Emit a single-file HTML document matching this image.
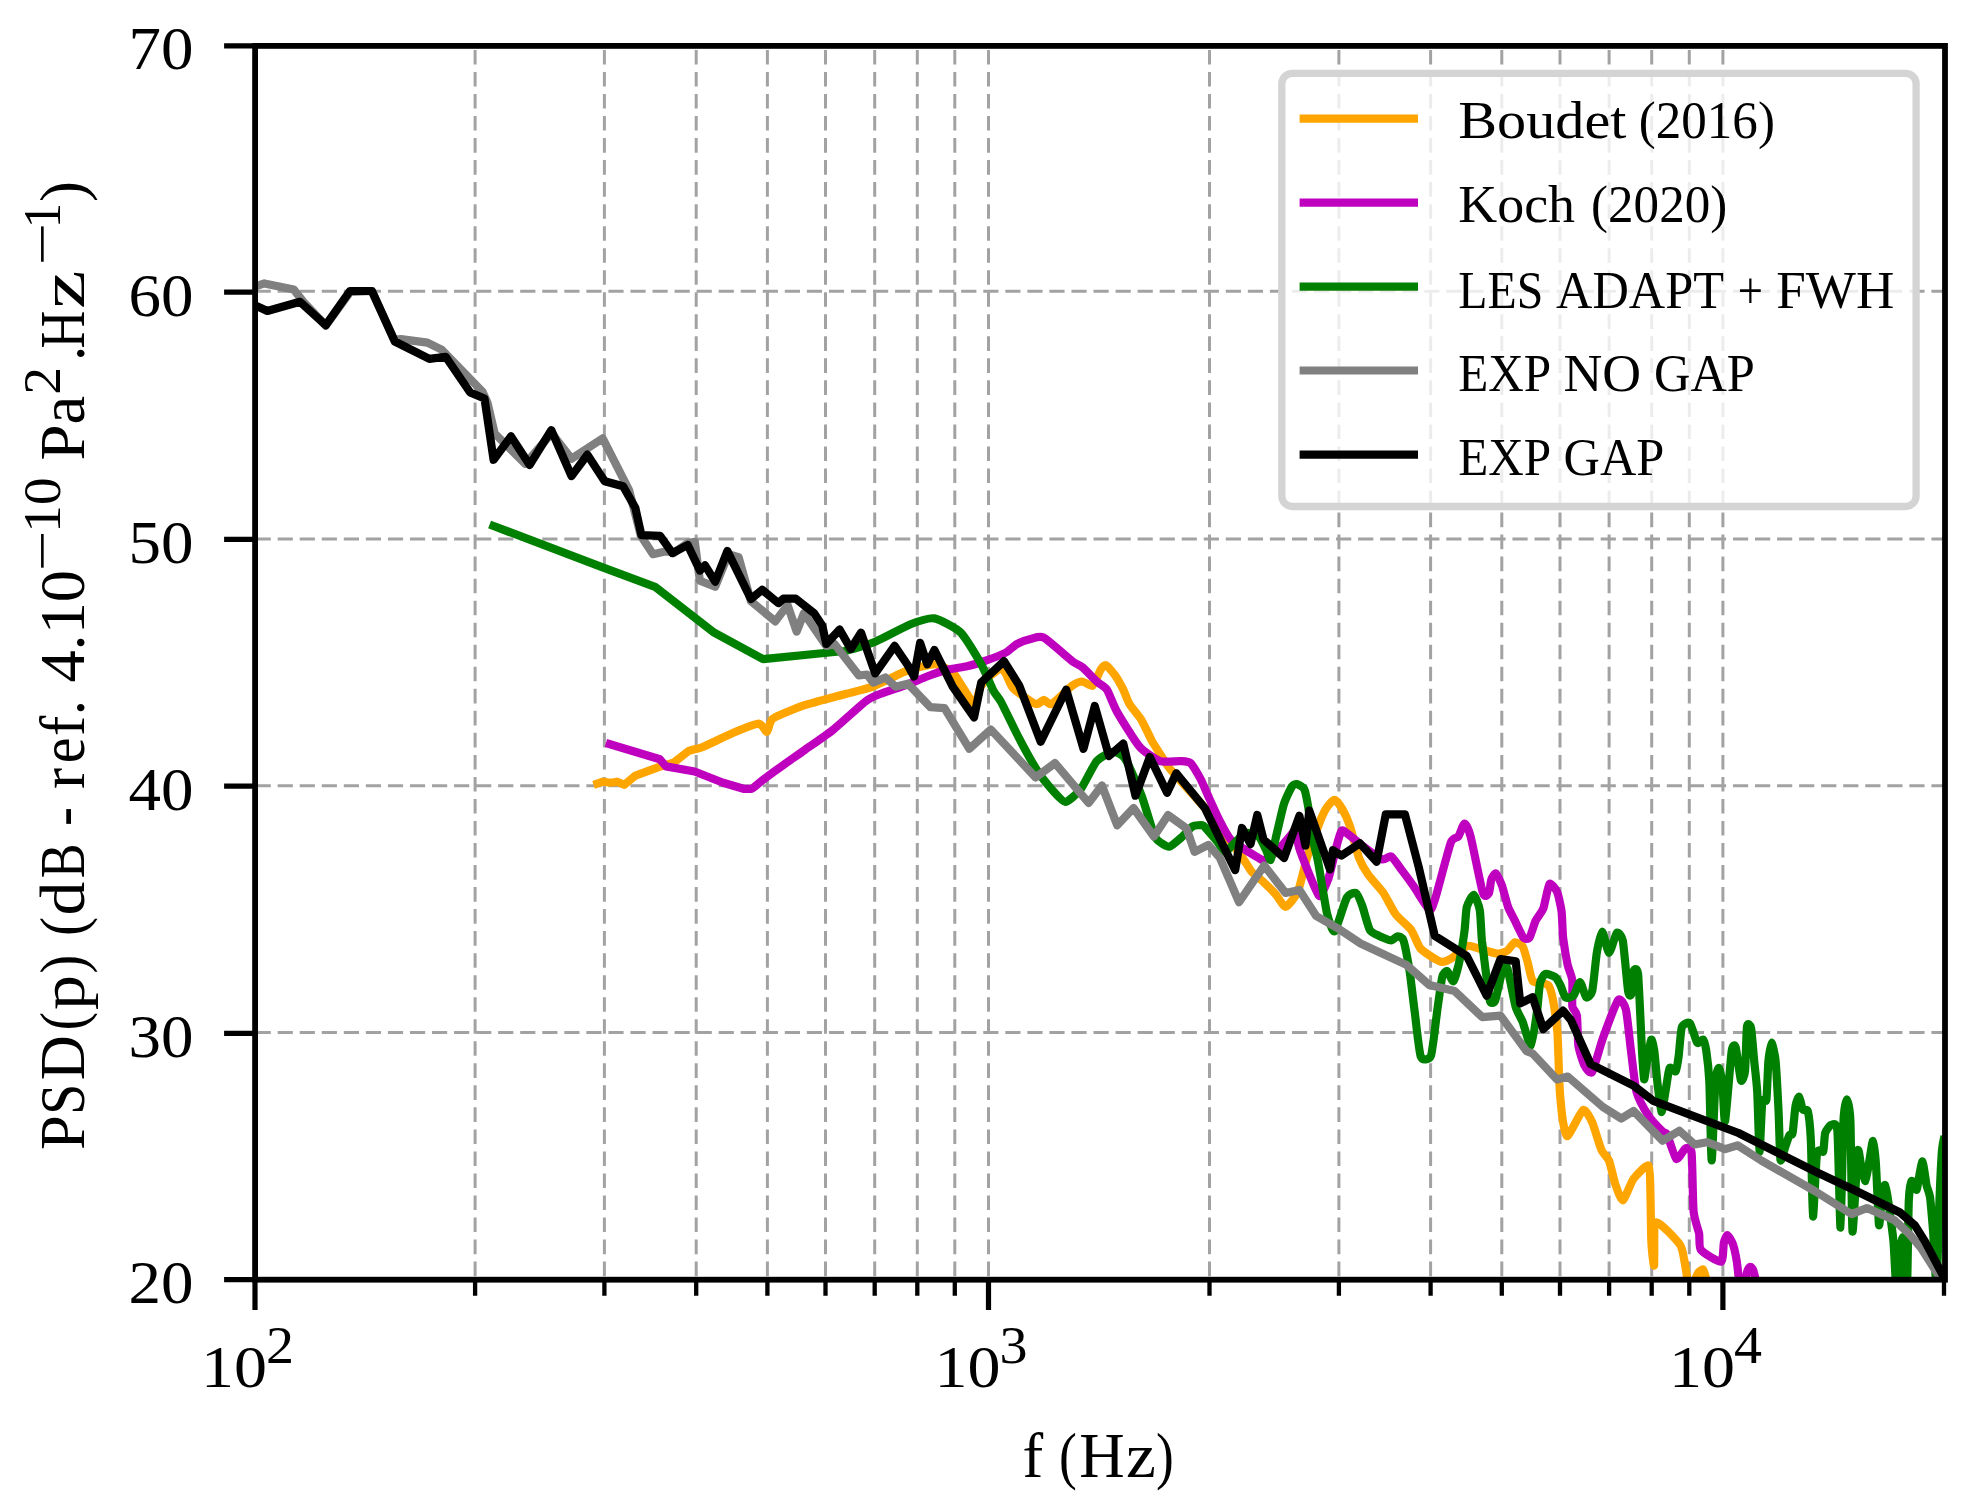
<!DOCTYPE html>
<html lang="en"><head><meta charset="utf-8"><title>PSD(p) spectra</title>
<style>html,body{margin:0;padding:0;background:#fff}svg{display:block}text{font-family:'Liberation Serif', 'DejaVu Serif', serif;fill:#000}</style>
</head><body>
<svg width="1962" height="1506" viewBox="0 0 1962 1506">
<rect width="1962" height="1506" fill="#fff"/>
<defs><clipPath id="ax"><rect x="255.1" y="45.9" width="1689.9" height="1233.8"/></clipPath></defs>
<g clip-path="url(#ax)" stroke="#a2a2a2" stroke-width="3.0" fill="none">
<path d="M475.1 1279.7 V45.9" stroke-dasharray="14.6 7.43" stroke-dashoffset="18.5"/>
<path d="M604.4 1279.7 V45.9" stroke-dasharray="14.6 7.43" stroke-dashoffset="18.5"/>
<path d="M696.2 1279.7 V45.9" stroke-dasharray="14.6 7.43" stroke-dashoffset="18.5"/>
<path d="M767.4 1279.7 V45.9" stroke-dasharray="14.6 7.43" stroke-dashoffset="18.5"/>
<path d="M825.5 1279.7 V45.9" stroke-dasharray="14.6 7.43" stroke-dashoffset="18.5"/>
<path d="M874.7 1279.7 V45.9" stroke-dasharray="14.6 7.43" stroke-dashoffset="18.5"/>
<path d="M917.3 1279.7 V45.9" stroke-dasharray="14.6 7.43" stroke-dashoffset="18.5"/>
<path d="M954.8 1279.7 V45.9" stroke-dasharray="14.6 7.43" stroke-dashoffset="18.5"/>
<path d="M988.5 1279.7 V45.9" stroke-dasharray="14.6 7.43" stroke-dashoffset="18.5"/>
<path d="M1209.5 1279.7 V45.9" stroke-dasharray="14.6 7.43" stroke-dashoffset="18.5"/>
<path d="M1338.9 1279.7 V45.9" stroke-dasharray="14.6 7.43" stroke-dashoffset="18.5"/>
<path d="M1430.6 1279.7 V45.9" stroke-dasharray="14.6 7.43" stroke-dashoffset="18.5"/>
<path d="M1501.8 1279.7 V45.9" stroke-dasharray="14.6 7.43" stroke-dashoffset="18.5"/>
<path d="M1560.0 1279.7 V45.9" stroke-dasharray="14.6 7.43" stroke-dashoffset="18.5"/>
<path d="M1609.1 1279.7 V45.9" stroke-dasharray="14.6 7.43" stroke-dashoffset="18.5"/>
<path d="M1651.7 1279.7 V45.9" stroke-dasharray="14.6 7.43" stroke-dashoffset="18.5"/>
<path d="M1689.3 1279.7 V45.9" stroke-dasharray="14.6 7.43" stroke-dashoffset="18.5"/>
<path d="M1722.9 1279.7 V45.9" stroke-dasharray="14.6 7.43" stroke-dashoffset="18.5"/>
<path d="M255.1 1032.6 H1945.0" stroke-dasharray="15.2 6.85" stroke-dashoffset="-0.5"/>
<path d="M255.1 785.7 H1945.0" stroke-dasharray="15.2 6.85" stroke-dashoffset="-0.5"/>
<path d="M255.1 539.0 H1945.0" stroke-dasharray="15.2 6.85" stroke-dashoffset="-0.5"/>
<path d="M255.1 291.2 H1945.0" stroke-dasharray="15.2 6.85" stroke-dashoffset="-0.5"/>
</g>
<g clip-path="url(#ax)" fill="none" stroke-width="8.2" stroke-linejoin="round" stroke-linecap="butt">
<path stroke="#ffa500" d="M593.6 784.8 L602.8 781.7 L611.0 782.7 L617.1 781.7 L624.2 784.8 L635.4 775.6 L657.9 767.4 L674.2 762.3 L688.4 751.1 C691.3 749.6 698.2 748.9 702.7 747.0 C707.2 745.2 727.7 735.1 733.3 732.8 C738.9 730.4 755.4 723.7 758.8 723.6 C762.1 723.5 765.5 732.3 766.9 731.7 C768.4 731.2 769.3 721.1 773.0 718.5 C776.8 715.8 797.4 707.7 804.6 705.2 C811.9 702.8 838.7 695.9 845.4 694.0 C852.2 692.2 866.2 689.0 871.9 686.9 C877.6 684.8 898.3 674.5 902.5 672.6 C906.7 670.8 910.6 669.2 914.0 668.3 C917.4 667.5 932.5 663.9 936.4 664.3 C940.3 664.7 950.3 670.5 952.7 672.4 C955.1 674.3 958.3 680.3 960.0 683.0 C961.7 685.7 968.8 696.8 970.2 699.3 C971.7 701.8 973.5 708.7 974.5 707.5 C975.5 706.3 979.0 690.1 980.5 687.0 C982.0 683.9 988.0 677.9 990.0 676.0 C992.0 674.1 999.4 668.7 1001.0 668.5 C1002.6 668.3 1004.8 672.0 1006.0 674.0 C1007.2 676.0 1010.4 685.7 1013.4 688.7 C1016.4 691.7 1032.6 702.9 1035.6 704.0 C1038.7 705.1 1042.2 699.9 1043.8 699.9 C1045.4 699.9 1049.1 705.4 1051.9 704.0 C1054.8 702.5 1069.3 687.9 1072.3 685.6 C1075.4 683.4 1080.5 681.5 1082.5 681.5 C1084.6 681.5 1090.9 686.9 1092.7 685.6 C1094.5 684.4 1099.5 671.4 1100.9 669.3 C1102.2 667.3 1104.5 664.6 1106.0 665.2 C1107.4 665.9 1113.4 673.0 1115.1 675.4 C1116.9 677.9 1121.9 686.9 1123.3 689.7 C1124.7 692.6 1127.6 700.9 1129.4 704.0 C1131.2 707.0 1139.4 716.6 1141.6 720.3 C1143.9 724.0 1149.8 737.0 1151.8 740.7 C1153.9 744.3 1160.2 754.1 1162.0 757.0 C1163.9 759.8 1165.9 764.1 1170.2 769.2 C1174.5 774.3 1197.6 799.1 1204.8 808.0 C1212.0 816.8 1237.5 851.1 1242.2 857.5 C1246.9 863.9 1249.9 869.7 1252.0 872.2 C1254.1 874.6 1261.0 879.7 1263.4 881.9 C1265.8 884.1 1273.4 891.7 1275.6 894.2 C1277.9 896.7 1283.4 907.1 1285.6 906.8 C1287.9 906.5 1295.7 896.4 1297.9 891.5 C1300.0 886.6 1304.7 865.0 1307.0 857.9 C1309.3 850.7 1318.8 824.7 1320.8 819.6 C1322.8 814.6 1325.5 809.4 1326.9 807.4 C1328.3 805.4 1333.0 799.6 1334.6 799.8 C1336.1 799.9 1340.7 806.3 1342.2 808.9 C1343.7 811.5 1348.2 820.9 1349.8 825.7 C1351.5 830.6 1357.2 853.0 1359.0 857.9 C1360.9 862.8 1365.7 871.2 1368.2 874.7 C1370.6 878.2 1380.7 889.1 1383.5 893.0 C1386.2 897.0 1393.0 910.8 1395.7 914.4 C1398.5 918.1 1408.6 926.4 1411.0 929.7 C1413.5 933.1 1418.0 945.3 1420.2 948.1 C1422.3 950.8 1430.3 955.9 1432.4 957.2 C1434.6 958.6 1439.8 961.7 1441.6 961.8 C1443.4 962.0 1448.2 960.4 1450.8 958.8 C1453.4 957.2 1464.5 946.7 1467.6 945.8 C1470.7 944.9 1479.0 948.8 1481.9 949.6 C1484.9 950.3 1494.7 953.5 1497.2 953.6 C1499.8 953.7 1505.7 951.7 1507.4 950.6 C1509.2 949.5 1513.0 942.8 1514.6 942.4 C1516.1 942.0 1521.4 944.5 1522.7 946.5 C1524.0 948.5 1526.8 959.3 1527.8 962.8 C1528.8 966.3 1530.9 978.9 1532.9 981.2 C1534.9 983.4 1546.2 983.2 1548.2 985.2 C1550.2 987.3 1552.4 996.9 1553.3 1001.5 C1554.2 1006.2 1556.8 1026.2 1557.4 1032.1 C1557.9 1038.1 1558.3 1054.9 1558.6 1061.2 C1558.8 1067.4 1559.6 1088.7 1560.1 1094.8 C1560.6 1100.9 1562.4 1118.2 1563.1 1122.3 C1563.9 1126.5 1565.7 1137.3 1567.7 1136.1 C1569.7 1134.9 1580.6 1111.5 1583.0 1110.1 C1585.5 1108.7 1590.4 1118.3 1592.2 1122.3 C1594.0 1126.3 1599.7 1146.0 1601.4 1149.8 C1603.1 1153.7 1607.6 1157.2 1609.0 1160.6 C1610.4 1163.9 1613.8 1179.5 1615.1 1183.5 C1616.5 1187.5 1620.9 1200.8 1622.8 1200.3 C1624.6 1199.8 1630.9 1182.4 1633.5 1178.9 C1636.1 1175.4 1646.9 1163.7 1648.6 1165.5 C1650.3 1167.3 1650.2 1189.0 1650.5 1196.7 C1650.7 1204.4 1651.0 1235.7 1651.4 1242.6 C1651.7 1249.4 1653.7 1267.5 1654.1 1265.5 C1654.6 1263.5 1653.4 1224.5 1656.0 1222.4 C1658.5 1220.3 1677.0 1240.6 1679.8 1244.4 C1682.7 1248.3 1683.6 1257.2 1684.4 1260.9 C1685.2 1264.6 1687.3 1279.1 1687.6 1281.1"/>
<path stroke="#ffa500" d="M1694.5 1281.1 C1694.9 1280.3 1697.3 1274.0 1698.2 1272.8 C1699.0 1271.7 1702.3 1268.8 1703.2 1269.6 C1704.1 1270.5 1706.5 1280.0 1706.9 1281.1"/>
<path stroke="#bf00bf" d="M605.9 743.0 L659.9 759.3 L666.0 766.4 L694.6 771.5 L723.1 782.7 L743.5 788.8 L751.6 788.8 C753.5 788.0 758.6 783.1 761.8 780.7 C765.1 778.2 780.0 767.4 784.3 764.4 C788.5 761.3 799.8 753.6 804.6 750.1 C809.5 746.6 827.1 734.6 833.2 729.7 C839.3 724.8 861.1 704.7 865.8 701.2 C870.5 697.6 876.0 695.7 880.1 694.0 C884.2 692.4 901.9 686.6 906.6 684.9 C911.3 683.1 923.0 678.0 927.0 676.5 C931.0 675.0 943.0 670.8 947.0 669.8 C951.0 668.8 963.4 667.1 967.0 666.3 C970.6 665.5 979.5 662.8 983.3 661.5 C987.1 660.2 1001.6 654.8 1005.0 653.0 C1008.4 651.2 1014.6 645.3 1017.3 643.8 C1019.9 642.4 1028.9 639.3 1031.5 638.7 C1034.2 638.1 1039.7 635.5 1043.8 637.7 C1047.9 640.0 1068.5 658.2 1072.3 661.2 C1076.2 664.1 1080.1 665.2 1082.5 667.3 C1085.0 669.3 1094.3 679.3 1096.8 681.5 C1099.2 683.8 1104.9 686.6 1107.0 689.7 C1109.0 692.8 1113.9 706.4 1117.2 712.1 C1120.4 717.8 1135.3 741.9 1139.6 746.8 C1143.9 751.7 1155.9 759.6 1160.0 761.1 C1164.1 762.5 1177.3 760.9 1180.4 761.1 C1183.4 761.3 1188.5 761.3 1190.6 763.1 C1192.6 764.9 1198.9 775.9 1200.8 779.4 C1202.6 782.9 1207.3 794.1 1209.2 798.2 C1211.1 802.4 1217.7 817.0 1219.9 821.2 C1222.0 825.3 1228.0 836.6 1230.6 839.5 C1233.2 842.4 1243.0 848.3 1245.9 850.2 C1248.7 852.1 1257.6 857.3 1259.3 858.3 C1261.1 859.3 1262.2 860.6 1263.4 860.3 C1264.6 860.1 1269.7 857.3 1271.5 855.8 C1273.4 854.3 1280.1 847.4 1282.2 845.2 C1284.2 843.0 1290.6 835.4 1291.9 833.8 C1293.3 832.2 1295.4 828.2 1296.0 829.3 C1296.7 830.5 1297.6 842.0 1298.5 845.2 C1299.3 848.5 1302.9 858.3 1304.2 861.5 C1305.4 864.8 1309.4 874.8 1310.7 877.9 C1312.0 881.0 1316.2 890.7 1317.2 892.5 C1318.2 894.3 1319.3 897.3 1320.5 895.8 C1321.6 894.3 1327.0 882.9 1328.6 877.9 C1330.3 872.8 1335.6 849.8 1336.8 845.2 C1338.0 840.7 1340.2 833.7 1340.9 832.2 C1341.5 830.7 1342.1 830.0 1343.3 830.6 C1344.5 831.1 1351.0 836.5 1352.9 838.0 C1354.8 839.5 1359.2 843.5 1362.1 845.6 C1365.0 847.8 1379.1 858.3 1382.0 859.4 C1384.9 860.5 1389.1 855.3 1391.1 856.3 C1393.1 857.4 1399.5 867.0 1401.8 870.1 C1404.1 873.1 1411.3 882.9 1414.1 886.9 C1416.8 890.9 1427.2 908.8 1429.4 909.8 C1431.5 910.9 1433.3 904.3 1435.5 897.6 C1437.6 890.9 1448.5 848.7 1450.8 842.6 C1453.1 836.5 1457.0 838.4 1458.4 836.5 C1459.8 834.5 1463.3 823.5 1464.5 823.5 C1465.7 823.5 1468.8 829.5 1470.6 836.5 C1472.5 843.4 1481.0 887.4 1482.9 893.0 C1484.7 898.7 1488.1 894.4 1489.0 893.0 C1489.8 891.7 1490.6 881.5 1491.3 879.5 C1492.0 877.5 1494.8 872.8 1495.9 873.4 C1496.9 874.0 1500.8 882.3 1502.0 885.6 C1503.2 889.0 1506.9 903.7 1508.1 907.0 C1509.3 910.4 1512.7 916.2 1514.2 919.3 C1515.7 922.3 1521.9 935.8 1523.4 937.6 C1524.9 939.4 1528.3 939.3 1529.5 937.6 C1530.7 935.9 1534.3 923.7 1535.6 920.8 C1537.0 917.9 1541.9 912.2 1543.3 908.6 C1544.6 904.9 1548.0 885.8 1549.4 884.1 C1550.8 882.4 1555.8 889.0 1557.0 891.7 C1558.3 894.5 1561.0 907.0 1561.6 911.6 C1562.2 916.2 1562.5 932.3 1563.1 937.6 C1563.8 943.0 1566.8 960.9 1567.7 965.1 C1568.7 969.4 1571.9 976.3 1572.3 980.4 C1572.8 984.6 1571.9 1002.9 1572.3 1006.4 C1572.8 1009.9 1576.3 1011.3 1576.9 1015.3 C1577.5 1019.2 1577.7 1040.8 1578.4 1045.9 C1579.2 1050.9 1583.2 1063.1 1584.6 1065.7 C1585.9 1068.3 1590.4 1074.6 1592.2 1071.9 C1594.0 1069.1 1600.3 1045.4 1602.9 1038.2 C1605.5 1031.0 1615.9 1002.9 1618.2 1000.0 C1620.5 997.1 1624.6 1004.6 1625.8 1009.2 C1627.1 1013.8 1629.4 1037.6 1630.4 1045.9 C1631.5 1054.1 1634.7 1084.7 1636.5 1091.7 C1638.4 1098.8 1646.2 1112.2 1648.8 1116.2 C1651.4 1120.2 1660.7 1129.7 1662.5 1131.5 C1664.4 1133.3 1665.7 1131.8 1667.1 1134.6 C1668.5 1137.3 1674.5 1157.6 1676.3 1159.0 C1678.1 1160.4 1683.9 1148.9 1685.5 1148.3 C1687.0 1147.7 1690.8 1146.6 1691.6 1152.9 C1692.4 1159.2 1692.8 1203.3 1693.6 1211.4 C1694.3 1219.4 1698.3 1229.5 1699.1 1233.4 C1699.8 1237.2 1698.7 1247.1 1700.9 1249.9 C1703.1 1252.8 1718.8 1262.6 1721.1 1261.8 C1723.4 1261.1 1723.2 1245.2 1723.9 1242.6 C1724.5 1239.9 1726.6 1235.0 1727.5 1235.2 C1728.4 1235.4 1732.1 1241.8 1733.0 1244.4 C1733.9 1247.0 1736.1 1257.2 1736.7 1260.9 C1737.3 1264.6 1738.8 1279.1 1739.0 1281.1"/>
<path stroke="#bf00bf" d="M1744.5 1281.1 C1744.8 1280.0 1747.1 1271.5 1747.7 1270.1 C1748.3 1268.7 1749.9 1266.9 1750.5 1266.9 C1751.0 1266.9 1752.7 1268.7 1753.2 1270.1 C1753.8 1271.5 1755.7 1280.0 1756.0 1281.1"/>
<path stroke="#008000" d="M489.6 524.5 L600.0 566.4 L655.0 586.8 L714.2 632.7 L763.1 659.2 L824.3 653.0 L844.6 651.0 C849.7 649.9 868.7 644.5 875.2 641.8 C881.8 639.2 904.0 626.9 909.9 624.5 C915.8 622.2 929.3 617.6 934.4 618.4 C939.4 619.2 956.2 628.1 960.9 632.7 C965.5 637.2 978.0 658.5 981.2 664.3 C984.5 670.1 991.5 687.0 993.5 690.8 C995.4 694.5 998.4 697.1 1001.0 701.9 C1003.6 706.7 1015.6 731.7 1019.3 738.6 C1023.0 745.6 1034.4 766.2 1037.7 771.3 C1040.9 776.4 1049.2 786.5 1051.9 789.6 C1054.7 792.7 1062.3 801.8 1065.2 801.8 C1068.0 801.8 1077.3 793.7 1080.5 789.6 C1083.6 785.5 1093.5 764.8 1096.8 761.1 C1100.1 757.3 1110.2 752.1 1113.1 751.9 C1116.0 751.7 1122.5 754.6 1125.3 759.0 C1128.2 763.4 1138.8 788.2 1141.6 795.7 C1144.5 803.3 1152.2 830.0 1153.9 834.5 C1155.5 838.9 1156.4 839.3 1158.0 840.6 C1159.5 841.8 1166.7 847.1 1169.2 846.7 C1171.6 846.3 1180.1 838.5 1182.4 836.5 C1184.8 834.5 1190.6 827.4 1192.6 826.3 C1194.6 825.2 1201.4 825.0 1202.8 825.3 C1204.2 825.5 1204.9 827.3 1206.3 828.9 C1207.7 830.5 1215.0 838.9 1216.9 841.2 C1218.8 843.4 1223.4 851.4 1225.1 851.8 C1226.7 852.1 1231.2 846.3 1233.2 844.4 C1235.3 842.5 1242.9 833.8 1245.5 833.0 C1248.0 832.2 1256.5 834.6 1258.5 836.3 C1260.5 837.9 1264.6 847.0 1265.8 849.3 C1267.1 851.7 1269.8 861.0 1270.7 859.9 C1271.7 858.9 1274.3 844.3 1275.6 838.7 C1276.9 833.2 1282.2 809.7 1283.8 804.5 C1285.4 799.2 1290.6 788.6 1291.9 786.5 C1293.2 784.5 1295.6 783.8 1296.8 784.1 C1298.1 784.3 1303.0 786.7 1304.2 789.0 C1305.3 791.3 1307.4 802.1 1308.2 806.9 C1309.1 811.7 1311.3 831.6 1312.3 837.1 C1313.3 842.5 1316.6 854.0 1318.0 861.5 C1319.5 869.1 1325.3 905.9 1326.9 912.9 C1328.6 919.9 1332.6 932.8 1334.6 931.3 C1336.5 929.7 1344.6 901.4 1346.8 897.6 C1348.9 893.8 1354.4 892.3 1356.0 893.0 C1357.5 893.8 1360.7 901.6 1362.1 905.3 C1363.5 908.9 1368.0 926.7 1369.7 929.7 C1371.4 932.8 1376.8 934.8 1378.9 935.8 C1381.0 936.9 1389.3 940.4 1391.1 940.4 C1393.0 940.5 1396.1 936.3 1397.3 936.3 C1398.6 936.3 1402.2 936.9 1403.4 940.4 C1404.7 943.9 1408.4 963.8 1409.6 971.0 C1410.7 978.1 1413.5 1003.2 1414.7 1011.7 C1415.8 1020.3 1419.1 1052.2 1420.8 1056.6 C1422.4 1061.0 1429.3 1060.1 1431.0 1055.6 C1432.6 1051.1 1436.0 1019.6 1437.1 1011.7 C1438.2 1003.9 1441.2 981.2 1442.2 977.1 C1443.2 973.0 1446.2 970.6 1447.3 971.0 C1448.4 971.4 1452.2 982.2 1453.4 981.2 C1454.6 980.1 1458.4 965.9 1459.5 960.8 C1460.6 955.7 1463.9 935.6 1464.6 930.2 C1465.3 924.8 1465.9 910.6 1466.8 907.0 C1467.7 903.5 1472.4 894.5 1473.7 894.8 C1475.0 895.1 1479.0 905.5 1479.8 910.1 C1480.6 914.7 1481.2 933.3 1481.9 940.4 C1482.7 947.5 1486.2 975.0 1487.0 981.2 C1487.8 987.3 1489.3 999.6 1490.1 1001.5 C1490.9 1003.5 1494.0 1003.6 1495.2 1000.5 C1496.4 997.5 1501.1 974.2 1502.3 971.0 C1503.5 967.7 1506.0 964.6 1507.3 968.2 C1508.7 971.8 1514.0 1001.3 1515.6 1006.6 C1517.1 1012.0 1521.2 1018.1 1522.7 1021.9 C1524.2 1025.8 1529.4 1046.4 1530.9 1045.4 C1532.3 1044.4 1536.1 1018.0 1537.0 1011.7 C1537.9 1005.5 1539.2 987.0 1540.0 983.2 C1540.9 979.4 1543.6 974.6 1545.1 974.0 C1546.7 973.4 1553.8 976.0 1555.3 977.1 C1556.9 978.2 1559.4 983.2 1560.4 985.2 C1561.4 987.3 1564.2 996.5 1565.5 997.5 C1566.9 998.5 1572.2 997.0 1573.7 995.4 C1575.1 993.9 1578.7 981.8 1580.0 982.0 C1581.2 982.1 1584.9 996.3 1586.1 997.2 C1587.3 998.2 1591.1 995.6 1592.2 991.1 C1593.3 986.7 1595.8 958.9 1596.8 952.9 C1597.8 946.9 1600.9 931.5 1602.1 931.5 C1603.4 931.5 1607.6 952.8 1609.0 952.9 C1610.5 953.1 1615.3 934.3 1616.7 933.0 C1618.0 931.8 1621.6 934.9 1622.8 940.7 C1623.9 946.5 1627.3 985.8 1628.1 991.1 C1629.0 996.5 1630.7 996.2 1631.2 994.2 C1631.7 992.2 1632.8 973.2 1633.5 971.3 C1634.2 969.3 1637.2 966.4 1638.1 974.3 C1638.9 982.3 1641.4 1040.3 1642.0 1050.8 C1642.6 1061.3 1643.6 1078.3 1644.1 1079.3 C1644.6 1080.3 1646.4 1064.9 1647.1 1061.0 C1647.8 1057.0 1650.5 1040.6 1651.2 1039.6 C1651.9 1038.5 1653.7 1046.6 1654.3 1050.8 C1654.9 1055.0 1656.6 1075.2 1657.3 1081.4 C1658.0 1087.5 1660.6 1110.9 1661.4 1111.9 C1662.2 1113.0 1664.7 1095.9 1665.5 1091.5 C1666.3 1087.2 1668.5 1070.1 1669.6 1068.1 C1670.6 1066.1 1674.8 1072.4 1675.7 1071.2 C1676.6 1069.9 1678.1 1060.3 1678.7 1055.9 C1679.3 1051.5 1680.7 1030.6 1681.8 1027.3 C1682.9 1024.1 1688.4 1021.7 1689.9 1023.3 C1691.5 1024.8 1695.8 1041.0 1697.1 1042.6 C1698.4 1044.3 1702.3 1038.7 1703.2 1039.6 C1704.1 1040.4 1705.6 1046.6 1706.3 1050.8 C1706.9 1055.0 1708.8 1070.4 1709.3 1081.4 C1709.9 1092.3 1711.0 1160.5 1711.7 1160.5 C1712.3 1160.5 1714.7 1090.6 1715.4 1081.4 C1716.2 1072.1 1718.3 1067.6 1719.0 1068.1 C1719.7 1068.6 1722.0 1081.2 1722.6 1086.5 C1723.2 1091.8 1724.2 1124.7 1725.1 1121.1 C1726.0 1117.5 1730.7 1058.1 1731.7 1050.8 C1732.8 1043.4 1734.9 1044.8 1735.8 1047.7 C1736.7 1050.7 1740.0 1078.0 1740.9 1080.3 C1741.8 1082.7 1744.4 1076.6 1745.0 1071.2 C1745.6 1065.8 1746.4 1030.6 1747.0 1026.3 C1747.6 1022.0 1750.4 1024.9 1751.1 1028.3 C1751.8 1031.8 1753.6 1054.6 1754.2 1061.0 C1754.8 1067.3 1756.7 1082.5 1757.2 1091.5 C1757.8 1100.6 1759.0 1150.7 1759.5 1151.7 C1760.0 1152.7 1761.6 1106.9 1762.3 1101.7 C1763.0 1096.5 1765.8 1103.8 1766.4 1099.7 C1767.0 1095.6 1767.9 1066.7 1768.4 1061.0 C1769.0 1055.3 1770.8 1042.6 1771.5 1042.6 C1772.2 1042.6 1774.9 1054.0 1775.6 1061.0 C1776.3 1067.9 1778.1 1102.0 1778.6 1111.9 C1779.1 1121.8 1779.8 1156.6 1780.5 1160.0 C1781.2 1163.4 1784.5 1148.8 1785.4 1146.3 C1786.3 1143.8 1788.8 1136.3 1789.5 1135.0 C1790.2 1133.7 1792.0 1136.0 1792.6 1133.0 C1793.2 1130.0 1794.9 1109.1 1795.6 1105.5 C1796.3 1101.9 1798.5 1096.4 1799.2 1096.8 C1799.9 1097.2 1801.9 1108.1 1802.8 1109.6 C1803.7 1111.1 1807.1 1108.4 1807.9 1111.6 C1808.7 1114.8 1810.4 1130.7 1810.9 1141.2 C1811.4 1151.7 1812.4 1215.3 1813.0 1216.5 C1813.6 1217.7 1816.0 1159.9 1817.0 1153.4 C1818.0 1146.9 1822.4 1153.4 1823.2 1151.4 C1824.0 1149.4 1824.4 1135.7 1825.2 1133.0 C1826.0 1130.3 1830.1 1125.1 1831.3 1124.9 C1832.5 1124.7 1836.5 1120.7 1837.4 1131.0 C1838.3 1141.3 1839.9 1228.5 1840.5 1227.5 C1841.1 1226.5 1842.9 1133.6 1843.5 1120.8 C1844.1 1108.0 1846.1 1099.4 1846.8 1099.4 C1847.5 1099.4 1849.8 1107.6 1850.4 1120.8 C1851.0 1134.0 1851.8 1228.4 1852.5 1231.5 C1853.2 1234.6 1857.0 1158.2 1857.8 1151.6 C1858.6 1144.9 1860.2 1162.1 1861.0 1165.0 C1861.8 1167.9 1864.7 1181.5 1865.5 1181.0 C1866.3 1180.5 1868.8 1164.0 1869.5 1160.0 C1870.2 1156.0 1872.3 1140.5 1873.0 1141.0 C1873.7 1141.5 1875.4 1156.6 1876.0 1165.0 C1876.6 1173.4 1878.4 1222.0 1879.0 1225.0 C1879.6 1228.0 1881.4 1199.0 1882.0 1195.0 C1882.6 1191.0 1884.4 1184.3 1885.0 1185.0 C1885.6 1185.7 1887.6 1196.6 1888.4 1202.3 C1889.2 1208.0 1892.7 1232.7 1893.5 1241.7 C1894.3 1250.7 1895.9 1291.0 1896.5 1292.0 C1897.1 1293.0 1898.9 1257.4 1899.6 1252.0 C1900.3 1246.6 1902.7 1234.0 1903.4 1238.0 C1904.1 1242.0 1906.4 1295.7 1906.9 1292.0 C1907.4 1288.3 1908.3 1212.1 1908.8 1201.0 C1909.3 1189.9 1910.8 1182.1 1911.6 1181.0 C1912.4 1179.9 1915.8 1190.1 1916.5 1190.0 C1917.2 1189.9 1917.9 1182.8 1918.5 1180.0 C1919.1 1177.2 1921.7 1161.0 1922.5 1161.5 C1923.3 1162.0 1925.8 1181.5 1926.5 1185.0 C1927.2 1188.5 1929.3 1192.5 1930.0 1197.0 C1930.7 1201.5 1932.3 1221.3 1933.0 1230.0 C1933.7 1238.7 1935.8 1287.0 1936.5 1284.0 C1937.2 1281.0 1939.0 1213.4 1939.5 1200.0 C1940.0 1186.6 1941.5 1156.4 1942.0 1150.0 C1942.5 1143.6 1944.2 1137.4 1944.5 1136.0"/>
<path stroke="#808080" d="M254.9 286.5 L264.3 283.4 L293.8 289.6 L303.4 301.8 L325.8 325.6 L350.3 291.8 L371.9 291.0 L394.3 339.9 L400.9 339.1 L427.4 342.6 L441.6 349.7 L482.4 391.5 L487.5 402.7 L494.6 433.3 L525.2 463.9 L551.7 433.3 L571.5 458.8 L602.7 438.4 L629.2 490.4 L640.8 535.8 L653.0 554.2 L667.3 551.1 L673.4 553.1 L687.7 543.0 L694.8 541.9 L699.9 580.7 L715.2 586.8 L728.4 554.2 L738.6 557.2 L750.9 601.1 L775.3 621.4 L787.6 605.1 L796.7 631.6 L803.9 613.3 L826.3 645.9 L834.5 643.9 L858.9 675.5 L867.1 674.5 L873.2 682.6 L885.4 677.5 L895.6 686.7 L907.8 683.6 L930.3 707.1 L944.5 708.1 L969.4 748.8 L990.8 729.5 L1035.6 777.4 L1055.0 763.1 L1088.6 802.9 L1101.9 785.5 L1117.2 825.3 L1133.5 808.0 L1153.9 836.5 L1168.1 815.1 L1186.5 828.3 L1194.6 851.8 L1208.4 844.9 L1219.9 857.9 L1239.0 902.2 L1264.2 865.5 L1285.6 893.0 L1299.4 890.0 L1316.2 916.0 L1337.6 928.2 L1360.6 943.5 L1406.4 964.9 L1429.4 985.1 L1454.6 991.1 L1482.1 1017.1 L1500.5 1015.6 L1526.5 1051.2 L1532.6 1053.5 L1557.0 1079.5 L1567.7 1076.5 L1602.9 1107.0 L1621.3 1118.5 L1633.5 1110.9 L1662.5 1140.7 L1679.4 1130.7 L1694.6 1144.5 L1706.9 1142.2 L1725.2 1149.1 L1737.5 1145.3 L1761.4 1160.6 L1814.9 1191.1 L1851.6 1214.1 L1866.9 1208.0 L1894.5 1220.3 L1909.8 1234.6 L1921.0 1247.9 L1940.4 1278.4"/>
<path stroke="#000" d="M254.9 305.3 L267.3 311.0 L299.9 301.8 L325.8 325.2 L349.9 291.0 L371.9 291.0 L394.8 341.5 L429.4 358.9 L445.7 356.8 L470.2 392.5 L484.5 398.6 L493.6 459.8 L511.0 436.4 L529.7 464.9 L551.3 430.2 L571.5 476.1 L587.4 454.7 L604.7 481.2 L623.1 486.3 L635.3 507.7 L641.4 535.2 L660.1 535.8 L672.4 553.1 L687.7 545.0 L699.9 570.5 L705.0 565.4 L715.2 581.7 L727.4 551.1 L750.9 599.0 L762.1 589.8 L778.4 603.1 L783.5 598.6 L795.7 598.6 L814.1 613.3 L822.2 625.5 L826.3 643.9 L839.6 629.6 L850.8 649.0 L861.0 632.7 L875.2 673.4 L894.6 645.9 L907.8 665.3 L914.0 676.5 L920.1 642.9 L927.2 664.3 L934.4 650.0 L952.7 686.7 L974.1 717.3 L981.2 682.6 L1004.0 661.2 L1019.3 685.6 L1040.7 741.7 L1066.2 689.7 L1083.5 748.8 L1094.8 706.0 L1109.0 756.0 L1123.3 743.7 L1135.5 795.7 L1149.8 757.0 L1167.1 792.7 L1176.3 773.3 L1204.8 808.0 L1235.2 870.1 L1242.0 828.0 L1250.5 844.1 L1257.3 815.0 L1263.5 839.5 L1284.1 857.9 L1299.4 815.8 L1305.5 845.6 L1309.3 810.5 L1330.0 869.3 L1333.0 850.2 L1341.4 855.6 L1359.8 843.3 L1376.6 861.7 L1385.8 814.3 L1404.9 814.3 L1418.7 867.0 L1434.7 935.8 L1466.8 956.0 L1486.7 995.7 L1500.5 959.0 L1515.7 961.3 L1520.3 1003.4 L1532.6 997.2 L1543.3 1029.1 L1563.1 1010.7 L1570.8 1019.9 L1590.7 1064.2 L1633.5 1085.6 L1653.4 1100.9 L1738.5 1133.0 L1814.9 1171.3 L1853.7 1189.8 L1899.6 1212.2 L1914.9 1225.4 L1925.1 1241.7 L1944.5 1278.4"/>
</g>
<rect x="255.1" y="45.9" width="1689.9" height="1233.8" fill="none" stroke="#000" stroke-width="5.8"/>
<path d="M255.0 1279.7 v30.3 M988.5 1279.7 v30.3 M1722.9 1279.7 v30.3 M255.1 1279.7 h-31 M255.1 1033.3 h-31 M255.1 786.2 h-31 M255.1 539.4 h-31 M255.1 292.1 h-31 M255.1 45.9 h-31" stroke="#000" stroke-width="5.2" fill="none"/>
<path d="M475.1 1279.7 v16 M604.4 1279.7 v16 M696.2 1279.7 v16 M767.4 1279.7 v16 M825.5 1279.7 v16 M874.7 1279.7 v16 M917.3 1279.7 v16 M954.8 1279.7 v16 M1209.5 1279.7 v16 M1338.9 1279.7 v16 M1430.6 1279.7 v16 M1501.8 1279.7 v16 M1560.0 1279.7 v16 M1609.1 1279.7 v16 M1651.7 1279.7 v16 M1689.3 1279.7 v16 M1944.0 1279.7 v16" stroke="#000" stroke-width="4.3" fill="none"/>
<text x="193.6" y="1303.3" font-size="61.5" text-anchor="end" textLength="65" lengthAdjust="spacingAndGlyphs">20</text>
<text x="193.6" y="1056.5" font-size="61.5" text-anchor="end" textLength="65" lengthAdjust="spacingAndGlyphs">30</text>
<text x="193.6" y="809.7" font-size="61.5" text-anchor="end" textLength="65" lengthAdjust="spacingAndGlyphs">40</text>
<text x="193.6" y="562.9" font-size="61.5" text-anchor="end" textLength="65" lengthAdjust="spacingAndGlyphs">50</text>
<text x="193.6" y="316.1" font-size="61.5" text-anchor="end" textLength="65" lengthAdjust="spacingAndGlyphs">60</text>
<text x="193.6" y="69.3" font-size="61.5" text-anchor="end" textLength="65" lengthAdjust="spacingAndGlyphs">70</text>
<text><tspan x="201.0" y="1387" font-size="59.5" textLength="66" lengthAdjust="spacingAndGlyphs">10</tspan><tspan x="266.0" y="1362.8" font-size="53" textLength="28" lengthAdjust="spacingAndGlyphs">2</tspan></text>
<text><tspan x="934.5" y="1387" font-size="59.5" textLength="66" lengthAdjust="spacingAndGlyphs">10</tspan><tspan x="999.5" y="1362.8" font-size="53" textLength="28" lengthAdjust="spacingAndGlyphs">3</tspan></text>
<text><tspan x="1668.9" y="1387" font-size="59.5" textLength="66" lengthAdjust="spacingAndGlyphs">10</tspan><tspan x="1733.9" y="1362.8" font-size="53" textLength="28" lengthAdjust="spacingAndGlyphs">4</tspan></text>
<text y="1477.2" font-size="63.5"><tspan x="1022.4" textLength="20.7" lengthAdjust="spacingAndGlyphs">f</tspan> <tspan x="1059.0" textLength="17.8" lengthAdjust="spacingAndGlyphs">(</tspan><tspan x="1079.3" textLength="45.4" lengthAdjust="spacingAndGlyphs">H</tspan><tspan x="1125.9" textLength="29.9" lengthAdjust="spacingAndGlyphs">z</tspan><tspan x="1156.0" textLength="17.8" lengthAdjust="spacingAndGlyphs">)</tspan></text>
<text transform="rotate(-90)"><tspan x="-1150.0" y="84.0" font-size="62.5" textLength="34.8" lengthAdjust="spacingAndGlyphs">P</tspan><tspan x="-1114.8" y="84.0" font-size="62.5" textLength="31.0" lengthAdjust="spacingAndGlyphs">S</tspan><tspan x="-1080.3" y="84.0" font-size="62.5" textLength="45.1" lengthAdjust="spacingAndGlyphs">D</tspan><tspan x="-1030.5" y="84.0" font-size="62.5" textLength="18.7" lengthAdjust="spacingAndGlyphs">(</tspan><tspan x="-1009.9" y="84.0" font-size="62.5" textLength="35.1" lengthAdjust="spacingAndGlyphs">p</tspan><tspan x="-973.5" y="84.0" font-size="62.5" textLength="18.7" lengthAdjust="spacingAndGlyphs">)</tspan> <tspan x="-936.0" y="84.0" font-size="62.5" textLength="19.0" lengthAdjust="spacingAndGlyphs">(</tspan><tspan x="-915.6" y="84.0" font-size="62.5" textLength="33.9" lengthAdjust="spacingAndGlyphs">d</tspan><tspan x="-878.2" y="84.0" font-size="62.5" textLength="34.8" lengthAdjust="spacingAndGlyphs">B</tspan> <tspan x="-826.0" y="84.0" font-size="62.5" textLength="19.0" lengthAdjust="spacingAndGlyphs">-</tspan> <tspan x="-788.9" y="84.0" font-size="62.5" textLength="21.2" lengthAdjust="spacingAndGlyphs">r</tspan><tspan x="-763.3" y="84.0" font-size="62.5" textLength="25.8" lengthAdjust="spacingAndGlyphs">e</tspan><tspan x="-736.1" y="84.0" font-size="62.5" textLength="20.2" lengthAdjust="spacingAndGlyphs">f</tspan><tspan x="-715.3" y="84.0" font-size="62.5" textLength="15.4" lengthAdjust="spacingAndGlyphs">.</tspan> <tspan x="-682.6" y="84.0" font-size="62.5" textLength="112.6" lengthAdjust="spacingAndGlyphs">4.10</tspan><tspan x="-571.0" y="60.0" font-size="53.0" textLength="40.9" lengthAdjust="spacingAndGlyphs">−</tspan><tspan x="-532.7" y="60.0" font-size="53.0" textLength="55.3" lengthAdjust="spacingAndGlyphs">10</tspan> <tspan x="-460.4" y="84.0" font-size="62.5" textLength="64.7" lengthAdjust="spacingAndGlyphs">Pa</tspan><tspan x="-394.7" y="60.0" font-size="53.0" textLength="27.9" lengthAdjust="spacingAndGlyphs">2</tspan><tspan x="-361.0" y="84.0" font-size="62.5" textLength="15.3" lengthAdjust="spacingAndGlyphs">.</tspan><tspan x="-348.4" y="84.0" font-size="62.5" textLength="37.9" lengthAdjust="spacingAndGlyphs">H</tspan><tspan x="-309.0" y="84.0" font-size="62.5" textLength="38.8" lengthAdjust="spacingAndGlyphs">z</tspan><tspan x="-265.2" y="60.0" font-size="53.0" textLength="42.9" lengthAdjust="spacingAndGlyphs">−</tspan><tspan x="-228.3" y="60.0" font-size="53.0" textLength="25.4" lengthAdjust="spacingAndGlyphs">1</tspan><tspan x="-202.0" y="84.0" font-size="62.5" textLength="21.0" lengthAdjust="spacingAndGlyphs">)</tspan></text>
<rect x="1281.8" y="73.3" width="634.3" height="433.2" rx="10.5" ry="10.5" fill="#fff" fill-opacity="0.8" stroke="#d4d4d4" stroke-width="7.3"/>
<path d="M1299.6 118.7 H1418" stroke="#ffa500" stroke-width="8.2" fill="none"/>
<text y="137.7" font-size="53"><tspan x="1458.3" textLength="168.1" lengthAdjust="spacingAndGlyphs">Boudet</tspan> <tspan x="1638.8" textLength="136.1" lengthAdjust="spacingAndGlyphs">(2016)</tspan></text>
<path d="M1299.6 202.7 H1418" stroke="#bf00bf" stroke-width="8.2" fill="none"/>
<text y="222.3" font-size="53"><tspan x="1458.3" textLength="116.7" lengthAdjust="spacingAndGlyphs">Koch</tspan> <tspan x="1591.1" textLength="136.1" lengthAdjust="spacingAndGlyphs">(2020)</tspan></text>
<path d="M1299.6 286.6 H1418" stroke="#008000" stroke-width="8.2" fill="none"/>
<text y="307.8" font-size="53"><tspan x="1458.3" textLength="84.9" lengthAdjust="spacingAndGlyphs">LES</tspan> <tspan x="1556.1" textLength="167.0" lengthAdjust="spacingAndGlyphs">ADAPT</tspan> <tspan x="1737.7" textLength="25.2" lengthAdjust="spacingAndGlyphs">+</tspan> <tspan x="1776.3" textLength="118.0" lengthAdjust="spacingAndGlyphs">FWH</tspan></text>
<path d="M1299.6 370.5 H1418" stroke="#808080" stroke-width="8.2" fill="none"/>
<text y="391.0" font-size="53"><tspan x="1458.3" textLength="91.1" lengthAdjust="spacingAndGlyphs">EXP</tspan> <tspan x="1563.5" textLength="77.6" lengthAdjust="spacingAndGlyphs">NO</tspan> <tspan x="1654.0" textLength="100.9" lengthAdjust="spacingAndGlyphs">GAP</tspan></text>
<path d="M1299.6 454.6 H1418" stroke="#000" stroke-width="8.2" fill="none"/>
<text y="474.6" font-size="53"><tspan x="1458.3" textLength="91.1" lengthAdjust="spacingAndGlyphs">EXP</tspan> <tspan x="1563.5" textLength="100.8" lengthAdjust="spacingAndGlyphs">GAP</tspan></text>
</svg></body></html>
